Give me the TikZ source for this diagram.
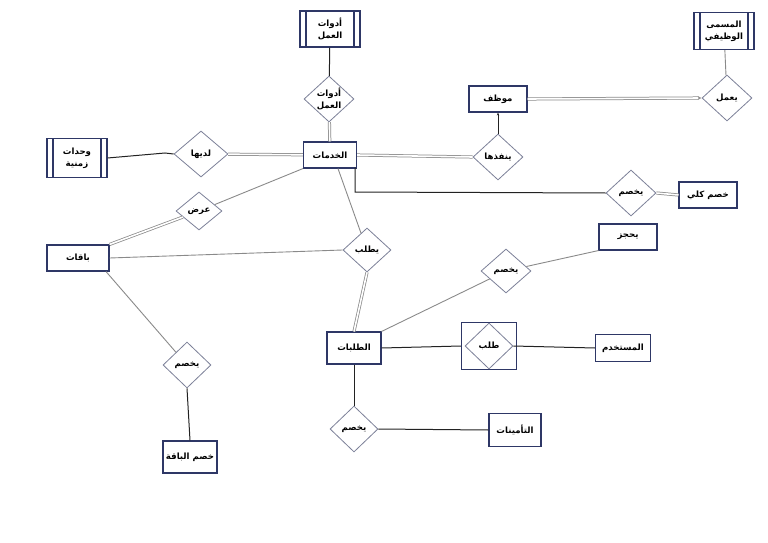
\documentclass[tikz,border=0pt]{standalone}
\usepackage{fontspec}
\newfontfamily\arfont[Script=Arabic]{DejaVu Sans}
\TeXXeTstate=1
\newcommand{\ar}[1]{{\arfont\bfseries\beginR #1\endR}}
\usetikzlibrary{shapes.geometric,arrows.meta}
\definecolor{boxc}{HTML}{2E3766}
\definecolor{dia}{HTML}{7C8098}
\definecolor{ln}{HTML}{222222}
\definecolor{gl}{HTML}{8A8A8A}
\begin{document}
\begin{tikzpicture}[x=1pt,y=-1pt,
 font=\fontsize{8.6}{12}\selectfont,
 ent/.style={draw=boxc,line width=1.1pt,minimum width=#1,minimum height=26pt,inner sep=1pt,align=center,fill=white},
 ent/.default=58pt,
 rel/.style={draw=dia,line width=0.8pt,diamond,aspect=1.05,minimum width=50pt,minimum height=46pt,inner sep=0pt,fill=white,align=center},
 dk/.style={draw=ln,line width=1pt},
 gr/.style={draw=gl,line width=0.9pt},
 dbl/.style={draw=gl,double=white,double distance=1.6pt,line width=0.75pt},
]
\useasboundingbox (0,0) rectangle (768,543);
% weak entities
\node[ent=60pt,minimum height=36pt] (tools) at (330,29) {\ar{أدوات}\\\ar{العمل}};
\draw[boxc,line width=1.1pt] (306,12) -- (306,46) (354,12) -- (354,46);
\node[ent=60pt,minimum height=39pt] (units) at (77,158) {\ar{وحدات}\\\ar{زمنية}};
\draw[boxc,line width=1.1pt] (53,139) -- (53,177) (101,139) -- (101,177);
\node[ent=60pt,minimum height=37pt] (title) at (724,31) {\ar{المسمى}\\\ar{الوظيفي}};
\draw[boxc,line width=1.1pt] (700,13) -- (700,49) (748,13) -- (748,49);
% entities
\node[ent=53pt] (serv) at (330,155) {\ar{الخدمات}};
\node[ent=62pt] (pack) at (78,258) {\ar{باقات}};
\node[ent] (emp) at (498,99) {\ar{موظف}};
\node[ent] (disc) at (708,195) {\ar{خصم كلي}};
\node[ent] (book) at (628,237) {\ar{يحجز}};
\node[ent=54pt,minimum height=32pt] (ord) at (354,348) {\ar{الطلبات}};
\node[ent=55pt,minimum height=27pt] (user) at (623,348) {\ar{المستخدم}};
\node[ent=52pt,minimum height=33pt] (ins) at (515,430) {\ar{التأمينات}};
\node[ent=54pt,minimum height=32pt] (pdisc) at (190,457) {\ar{خصم الباقة}};
% relationships
\node[rel] (rtools) at (329,99) {\ar{أدوات}\\\ar{العمل}};
\node[rel,minimum width=54pt] (has) at (201,154) {\ar{لديها}};
\node[rel,minimum width=46pt,minimum height=38pt] (offer) at (199,211) {\ar{عرض}};
\node[rel,minimum width=48pt,minimum height=44pt] (req) at (367,250) {\ar{يطلب}};
\node[rel] (exec) at (498,157) {\ar{ينفذها}};
\node[rel] (work) at (727,98) {\ar{يعمل}};
\node[rel] (dR) at (631,193) {\ar{يخصم}};
\node[rel,minimum height=44pt] (dM) at (506,271) {\ar{يخصم}};
\node[ent=55pt,minimum height=47pt] (wbox) at (489,346) {};
\node[rel,minimum width=48pt] (ask) at (489,346) {\ar{طلب}};
\node[rel,minimum width=48pt] (dL) at (354,429) {\ar{يخصم}};
\node[rel,minimum width=48pt] (dP) at (187,365) {\ar{يخصم}};
% connectors
\draw[dk] (tools) -- (rtools);
\draw[dbl] (rtools) -- (serv);
\draw[dk] (units.east) -- (165,153) -- (has.west);
\draw[dbl] (has) -- (serv);
\draw[dbl] (serv.east) -- (exec.west);
\draw[dk,-{Stealth[length=3pt]}] (exec.north) -- (emp.south);
\draw[dbl,-{Stealth[length=4pt]}] (emp.east) -- (work.west);
\draw[gr] (work) -- (title);
\draw[dk] (355,167.5) -- (355,192) -- (dR.west);
\draw[dbl] (dR.east) -- (disc.west);
\draw[gr] (serv.south west) -- (offer);
\draw[dbl] (offer) -- (pack.north east);
\draw[gr] (serv.south) ++(8,0) -- (req);
\draw[gr] (pack.east) -- (req.west);
\draw[dbl] (req.south) -- (ord.north);
\draw[gr] (ord.north east) -- (dM);
\draw[gr] (dM) -- (book.south west);
\draw[dk] (ord.east) -- (wbox.west);
\draw[dk] (ask.east) -- (user.west);
\draw[dk] (ord.south) -- (dL.north);
\draw[dk] (dL.east) -- (ins.west);
\draw[gr] (pack.south) ++(28,0) -- (dP);
\draw[dk] (dP.south) -- (pdisc.north);
\end{tikzpicture}
\end{document}
